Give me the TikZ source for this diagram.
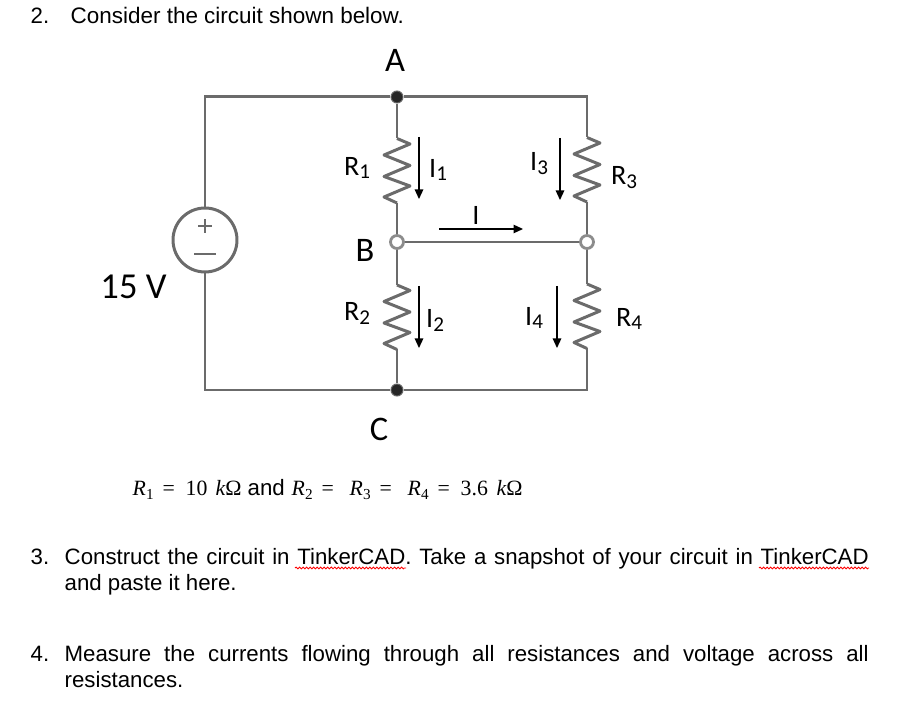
\documentclass[tikz,border=0pt]{standalone}
\usepackage[no-math]{fontspec}
\setmainfont{Liberation Sans}
\newfontfamily\calib{Carlito}
\newfontfamily\cambr{Liberation Serif}
\usetikzlibrary{arrows.meta,decorations.pathmorphing}
\tikzset{
wire/.style={draw=black!58, line width=0.85pt},
cur/.style={-{Stealth[length=0.95mm,width=0.85mm,inset=0pt]}, line width=0.35pt},
bignode/.style={circle, fill=black!85, draw=black!60, line width=0.3pt, minimum size=0.12cm, inner sep=0pt},
opennode/.style={circle, fill=white, draw=black!45, line width=0.8pt, minimum size=0.13cm, inner sep=0pt},
para/.style={anchor=base west, inner sep=0pt, font=\fontsize{6.33}{8}\selectfont},
big/.style={inner sep=0pt, font=\calib\fontsize{9.8}{11}\selectfont},
small/.style={inner sep=0pt, font=\calib\fontsize{8}{9}\selectfont},
eqn/.style={anchor=base west, inner sep=0pt, font=\cambr\fontsize{6.2}{8}\selectfont},
squig/.style={draw=red, line width=0.25pt, decorate, decoration={snake, amplitude=0.25pt, segment length=1pt}},
pics/resistor/.style={code={
\coordinate (-top) at (0,0);
\coordinate (-bot) at (0,-0.645);
\draw[wire, line join=round] (-top) -- (0.13,-0.055) -- (-0.13,-0.165) -- (0.13,-0.27) -- (-0.13,-0.38) -- (0.13,-0.475) -- (-0.13,-0.585) -- (-bot);
}}
}
\newcommand{\sym}[2]{{\itshape #1}\textsubscript{#2}}
\begin{document}
\begin{tikzpicture}
\useasboundingbox (0,0) rectangle (9.03,-7.25);
\node[para] (q2n) at (0.30,-0.24) {2.};
\node[para, font=\fontsize{6.39}{8}\selectfont] (q2) at (0.70,-0.24) {Consider the circuit shown below.};
\node[bignode] (nA) at (3.97,-0.97) {};
\node[opennode] (nB) at (3.97,-2.42) {};
\node[opennode] (nD) at (5.87,-2.42) {};
\node[bignode] (nC) at (3.97,-3.90) {};
\node[circle, draw=black!58, line width=0.85pt, minimum size=0.64cm, inner sep=0pt] (src) at (2.05,-2.40) {};
\pic (r1) at (3.97,-1.385) {resistor};
\pic (r2) at (3.97,-2.85) {resistor};
\pic (r3) at (5.87,-1.375) {resistor};
\pic (r4) at (5.87,-2.84) {resistor};
\draw[wire] (src.north) |- (nA);
\draw[wire] (src.south) |- (nC);
\draw[wire] (nA) -| (r3-top);
\draw[wire] (nC) -| (r4-bot);
\draw[wire] (nB) -- (nD);
\draw[wire] (nA) -- (r1-top);
\draw[wire] (r1-bot) -- (nB);
\draw[wire] (nB) -- (r2-top);
\draw[wire] (r2-bot) -- (nC);
\draw[wire] (r3-bot) -- (nD);
\draw[wire] (nD) -- (r4-top);
\draw[wire] (2.05,-2.19) -- (2.05,-2.33);
\draw[wire] (1.98,-2.26) -- (2.12,-2.26);
\draw[wire] (1.94,-2.54) -- (2.16,-2.54);
\coordinate (i1a) at (4.19,-1.37);
\coordinate (i1b) at (4.19,-1.99);
\coordinate (i2a) at (4.19,-2.86);
\coordinate (i2b) at (4.19,-3.48);
\coordinate (i3a) at (5.60,-1.38);
\coordinate (i3b) at (5.60,-2.00);
\coordinate (i4a) at (5.57,-2.86);
\coordinate (i4b) at (5.57,-3.48);
\coordinate (ia) at (4.39,-2.29);
\coordinate (ib) at (5.23,-2.29);
\draw[cur] (i1a) -- (i1b);
\draw[cur] (i2a) -- (i2b);
\draw[cur] (i3a) -- (i3b);
\draw[cur] (i4a) -- (i4b);
\draw[cur] (ia) -- (ib);
\node[big] (la) at (3.95,-0.60) {A};
\node[big] (lb) at (3.65,-2.50) {B};
\node[big] (lc) at (3.79,-4.29) {C};
\node[big, font=\calib\fontsize{10.4}{11}\selectfont] (lv) at (1.335,-2.87) {15 V};
\node[small] (lr1) at (3.58,-1.68) {R\textsubscript{1}};
\node[small] (lr2) at (3.58,-3.13) {R\textsubscript{2}};
\node[small] (lr3) at (6.25,-1.78) {R\textsubscript{3}};
\node[small] (lr4) at (6.30,-3.19) {R\textsubscript{4}};
\node[small] (li1) at (4.39,-1.70) {I\textsubscript{1}};
\node[small] (li2) at (4.36,-3.20) {I\textsubscript{2}};
\node[small] (li3) at (5.40,-1.64) {I\textsubscript{3}};
\node[small] (li4) at (5.35,-3.18) {I\textsubscript{4}};
\node[small] (li) at (4.76,-2.15) {I};
\node[eqn] (e1) at (1.32,-4.96) {\sym{R}{1}};
\node[eqn] (e2) at (1.62,-4.96) {=};
\node[eqn] (e3) at (1.85,-4.96) {10};
\node[eqn] (e4) at (2.15,-4.96) {{\itshape k}Ω};
\node[para] (e5) at (2.47,-4.96) {and};
\node[eqn] (e6) at (2.91,-4.96) {\sym{R}{2}};
\node[eqn] (e7) at (3.21,-4.96) {=};
\node[eqn] (e8) at (3.49,-4.96) {\sym{R}{3}};
\node[eqn] (e9) at (3.79,-4.96) {=};
\node[eqn] (e10) at (4.07,-4.96) {\sym{R}{4}};
\node[eqn] (e11) at (4.37,-4.96) {=};
\node[eqn] (e12) at (4.60,-4.96) {3.6};
\node[eqn] (e13) at (4.96,-4.96) {{\itshape k}Ω};
\node[para] (q3n) at (0.30,-5.65) {3.};
\node[para] (q3a) at (0.64,-5.65) {\makebox[8.04cm][s]{Construct the circuit in TinkerCAD. Take a snapshot of your circuit in TinkerCAD}};
\node[para] (q3b) at (0.64,-5.91) {and paste it here.};
\node[para] (q4n) at (0.30,-6.62) {4.};
\node[para] (q4a) at (0.64,-6.62) {\makebox[8.04cm][s]{Measure the currents flowing through all resistances and voltage across all}};
\node[para] (q4b) at (0.64,-6.88) {resistances.};
\draw[squig] (2.95,-5.68) -- (4.06,-5.68);
\draw[squig] (7.59,-5.68) -- (8.69,-5.68);
\end{tikzpicture}
\end{document}
